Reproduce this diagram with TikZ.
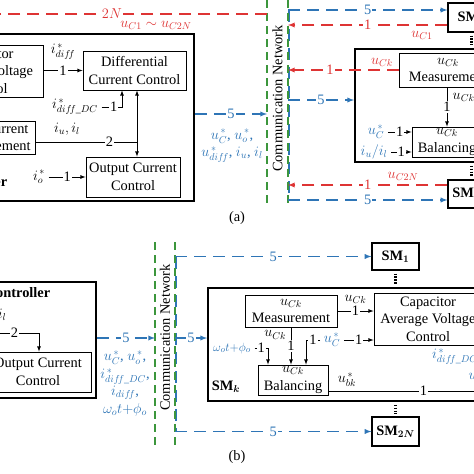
\documentclass[tikz,border=0pt]{standalone}
\usepackage{amsmath,amssymb,bm}
\usepackage{fontspec}
\setmainfont{Liberation Serif}
\usepackage{tikz}
\usetikzlibrary{shapes}
\usetikzlibrary{shapes.misc}
\definecolor{sigred}{RGB}{222,52,52}
\definecolor{sigblue}{RGB}{46,117,182}
\definecolor{netgreen}{RGB}{60,150,60}

\begin{document}
\begin{tikzpicture}[x = 1pt, y = -1pt, line width = .8pt,
  font = \fontsize{14.4}{17.5}\selectfont,
  blk/.style = {draw, align = center, inner sep = 0pt},
  frame/.style = {draw, line width = 1.8pt, inner sep = 0pt},
  sm/.style = {draw, line width = 1.2pt, inner sep = 0pt, minimum width = 47pt, font = \fontsize{14.4}{17.5}\selectfont\bfseries},
  title/.style = {font = \fontsize{14.4}{17.5}\selectfont\bfseries},
  num/.style = {fill = white, inner sep = 1pt},
  reddash/.style = {sigred, line width = 1.3pt, dash pattern = on 12pt off 7pt},
  bluedash/.style = {sigblue, line width = 1.3pt, dash pattern = on 12pt off 7pt},
  greendash/.style = {netgreen, line width = 1.2pt, dash pattern = on 8pt off 5pt},
  dots/.style = {line width = 2.4pt, dash pattern = on 1.5pt off 1.3pt}]
  \useasboundingbox (0, 0) rectangle (474, 474);
  \clip (0, 0) rectangle (474, 474);

  % (a) controller side
  \node[frame, minimum width = 294pt, minimum height = 167pt] at (47, 117.5) (ctrlA) {};
  \node[title, anchor = east] at (11, 182) (ctrlAname) {Controller};
  \node[blk, minimum width = 115pt, minimum height = 52pt] at (-14.5, 71) (capA) {Capacitor\\Average Voltage\\Control};
  \node[blk, minimum width = 103pt, minimum height = 39pt] at (134.5, 70.5) (diffA) {Differential\\Current Control};
  \node[blk, minimum width = 87pt, minimum height = 33pt] at (-8.5, 137.5) (armA) {Arm Current\\Measurement};
  \node[blk, minimum width = 94pt, minimum height = 40pt] at (133, 177) (outA) {Output Current\\Control};
  \draw[-latex] (capA.east |- diffA) -- node[num] {1} node[above = 7pt] {$i_{dif\!f}^{\,*}$} (diffA);
  \node at (75, 107) (idcA) {$i_{dif\!f\_DC}^{\,*}$};
  \draw[-latex] (idcA) -| node[num, pos = .3] {1} ([xshift = -12.5pt]diffA.south);
  \coordinate (jA) at (137, 142);
  \draw (armA.east |- jA) -- node[num, pos = .73] {2} (jA);
  \node at (67, 129) (iulA) {$i_u, i_l$};
  \draw[-latex] (jA) -- (jA |- diffA.south);
  \draw[-latex] (jA) -- (jA |- outA.north);
  \node at (39, 177) (ioA) {$i_o^{\,*}$};
  \draw[-latex] (ioA) -- node[num] {1} (outA);

  % (a) communication network
  \coordinate (gA1) at (267, 0);
  \coordinate (gA2) at (288, 0);
  \draw[bluedash] (289, 10) -- (289, 200);
  \draw[greendash] (267, 0) -- (267, 207);
  \draw[greendash] (288, 0) -- (288, 207);
  \node[rotate = 90] at (277.5, 98.5) (netA) {Communication Network};
  \draw[reddash] (gA1 |- 0, 14) -- node[num, pos = .56] {$2N$} (-10, 14);
  \node[sigred] at (156, 25) (ucallA) {$u_{C1}\sim u_{C2N}$};
  \draw[bluedash, -latex] (ctrlA.east |- 0, 114) -- node[num] {5} (gA1 |- 0, 114);
  \node[sigblue, align = center] at (232, 146) (refA) {$u_C^{\,*}$, $u_o^{\,*}$,\\$u_{dif\!f}^{\,*}$, $i_u$, $i_l$};

  % (a) submodules
  \node[sm, minimum height = 29pt] at (471.5, 17.5) (smoneA) {SM$_{\bm 1}$};
  \node[frame, minimum width = 205pt, minimum height = 113pt] at (457.5, 105.5) (smkA) {};
  \node[blk, minimum width = 98pt, minimum height = 34pt] at (448, 70) (measA) {$u_{Ck}$\\Measurement};
  \node[blk, minimum width = 70pt, minimum height = 30pt] at (447, 142) (balA) {$u_{Ck}$\\Balancing};
  \node[sm, minimum height = 28pt] at (471.5, 194) (smtwoA) {SM$_{\bm{2N}}$};
  \draw[bluedash, -latex] (gA2 |- 0, 10) -- node[num] {5} (smoneA.west |- 0, 10);
  \draw[reddash, -latex] (smoneA.west |- 0, 25) -- node[num] {1} (gA2 |- 0, 25);
  \node[sigred] at (422, 35) (uconeA) {$u_{C1}$};
  \draw[reddash, -latex] (measA.west) -- node[num, pos = .62] {1} (gA2 |- measA);
  \node[sigred] at (382, 62) (uckA) {$u_{Ck}$};
  \draw[bluedash, -latex] (gA2 |- 0, 100) -- node[num] {5} (smkA.west |- 0, 100);
  \draw[-latex] (measA.south -| balA) -- node[num] {1} node[pos = .25, right = 2pt] {$u_{Ck}$} (balA);
  \node[sigblue] at (376, 132) (ucA) {$u_C^{\,*}$};
  \draw[-latex] (ucA) -- node[num] {1} (ucA -| balA.west);
  \node[sigblue] at (374, 152) (iuA) {$i_u/i_l$};
  \draw[-latex] (iuA) -- node[num] {1} (iuA -| balA.west);
  \draw[reddash, -latex] (smtwoA.west |- 0, 185) -- node[num] {1} (gA2 |- 0, 185);
  \node[sigred] at (403, 176) (uctwoA) {$u_{C2N}$};
  \draw[bluedash, -latex] (gA2 |- 0, 200) -- node[num] {5} (smtwoA.west |- 0, 200);
  \draw[dots] ([yshift = -3pt]smoneA.south) -- ([yshift = 3pt]smoneA.south |- smkA.north);
  \draw[dots] ([yshift = -3pt]smtwoA.north |- smkA.south) -- ([yshift = 3pt]smtwoA.north);
  \node at (237, 218) (capa) {(a)};

  % (b) controller side
  \node[frame, minimum width = 196pt, minimum height = 116pt] at (-2, 340) (ctrlB) {};
  \node[title, anchor = west] at (-18, 293) (ctrlBname) {Controller};
  \node[anchor = east] at (10, 315) (iulB) {$i_u, i_l$};
  \coordinate (armB) at (-10, 333);
  \node[blk, minimum width = 106pt, minimum height = 40pt] at (38, 372) (outB) {Output Current\\Control};
  \draw[-latex] (armB) -| node[num, pos = .25] {2} (outB.north -| 39, 0);

  % (b) communication network
  \coordinate (gB1) at (155, 0);
  \coordinate (gB2) at (175, 0);
  \draw[bluedash] (176, 257) -- (176, 431);
  \draw[greendash] (155, 242) -- (155, 447);
  \draw[greendash] (175, 242) -- (175, 447);
  \node[rotate = 90] at (165, 337.5) (netB) {Communication Network};
  \draw[bluedash, -latex] (ctrlB.east |- 0, 338) -- node[num] {5} (gB1 |- 0, 338);
  \node[sigblue, align = center] at (125, 383.5) (refB) {$u_C^{\,*}$, $u_o^{\,*}$,\\$i_{dif\!f\_DC}^{\,*}$,\\$i_{dif\!f}$,\\$\omega_o t{+}\phi_o$};

  % (b) submodules
  \node[sm, minimum height = 27pt] at (395.5, 256.5) (smoneB) {SM$_{\bm 1}$};
  \node[frame, minimum width = 352pt, minimum height = 113pt] at (384, 344.5) (smkB) {};
  \node[blk, minimum width = 92pt, minimum height = 32pt] at (291, 311) (measB) {$u_{Ck}$\\Measurement};
  \node[blk, minimum width = 108pt, minimum height = 52pt] at (428, 319) (capB) {Capacitor\\Average Voltage\\Control};
  \node[blk, minimum width = 70pt, minimum height = 30pt] at (293, 380) (balB) {$u_{Ck}$\\Balancing};
  \node[sm, minimum height = 29pt] at (395.5, 431.5) (smtwoB) {SM$_{\bm{2N}}$};
  \node[title] at (226, 387) (smkBname) {SM$_{\bm k}$};
  \draw[bluedash, -latex] (gB2 |- smoneB) -- node[num] {5} (smoneB);
  \draw[bluedash, -latex] (gB2 |- 0, 338) -- node[num] {5} (smkB.west |- 0, 338);
  \draw[bluedash, -latex] (gB2 |- smtwoB) -- node[num] {5} (smtwoB);
  \draw[-latex] (measB.east) -- node[num] {1} node[above = 4pt] {$u_{Ck}$} (measB.east -| capB.west);
  \draw[-latex] (measB) -- node[num] {1} node[pos = .2, left = 1pt] {$u_{Ck}$} (measB |- balB.north);
  \node[sigblue, font = \fontsize{13}{15}\selectfont] at (232, 348) (wtB) {$\omega_o t{+}\phi_o$};
  \draw[-latex] (wtB) -| node[num, pos = .25] {1} ([xshift = -25pt]balB.north);
  \node[sigblue] at (332, 340) (ucB) {$u_C^{\,*}$};
  \draw[-latex] (ucB) -- node[num] {1} (ucB -| capB.west);
  \draw[-latex] (ucB) -| node[num, pos = .25] {1} ([xshift = 13pt]balB.north);
  \coordinate (ubB) at (560, 391);
  \draw ([yshift = -11pt]balB.east) -- node[num, pos = .41] {1} (ubB);
  \node at (347, 380) (ubkB) {$u_{bk}^{\,*}$};
  \node[sigblue] at (455, 357) (idcB) {$i_{dif\!f\_DC}^{\,*}$};
  \node[sigblue, anchor = west] at (465, 377) (ucrB) {$u_C$};
  \draw[dots] ([yshift = -3pt]smoneB.south) -- ([yshift = 3pt]smoneB.south |- smkB.north);
  \draw[dots] ([yshift = -3pt]smtwoB.north |- smkB.south) -- ([yshift = 3pt]smtwoB.north);
  \node at (237, 457) (capb) {(b)};
\end{tikzpicture}
\end{document}
